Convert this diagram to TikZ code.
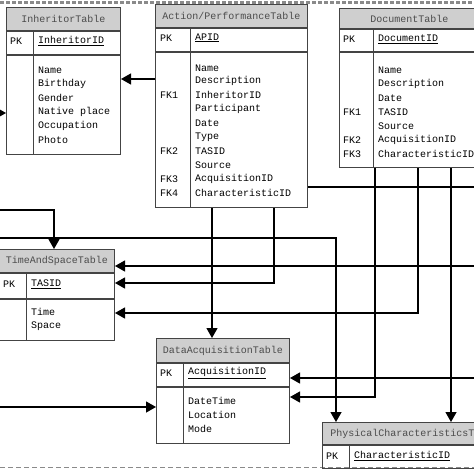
\documentclass[tikz,border=0pt]{standalone}
\usepackage{fontspec}
\usepackage{tikz}
\usepackage{xcolor}
\usetikzlibrary{arrows.meta}
\newfontfamily\tabfont{Liberation Mono}
\definecolor{headgray}{HTML}{cfcfcf}
\definecolor{rulegray}{HTML}{444444}
\definecolor{dashgray}{HTML}{8a8a8a}

\tikzset{
    hdr/.style = {fill = headgray, draw = rulegray, line width = 1pt, rectangle, anchor = north west, inner sep = 0pt, text = black!70},
    cell/.style = {draw = rulegray, line width = 1pt, rectangle, anchor = north west, inner sep = 0pt},
    fld/.style = {anchor = west, inner sep = 0pt},
    link/.style = {-{Triangle[length = 10pt, width = 11pt]}, line width = 1.3pt},
    wire/.style = {line width = 1.3pt}
}

\begin{document}
\begin{tikzpicture}[x = 1pt, y = -1pt, font = \tabfont\fontsize{10pt}{12pt}\selectfont]
        \useasboundingbox (0, 0) rectangle (474, 474);
        \clip (0, 0) rectangle (474, 474);

        % Frame
        \draw [dashgray, line width = 3pt, dash pattern = on 4pt off 2pt] (0, 2) -- (474, 2);
        \draw [dashgray, line width = 0.8pt, dash pattern = on 5pt off 3pt] (0, 467) -- (474, 467);

        % InheritorTable
        \node [hdr, minimum width = 114pt, minimum height = 23pt] (inh) at (6, 7) {InheritorTable};
        \node [cell, minimum width = 114pt, minimum height = 23pt] (inh-pk) at (inh.south west) {};
        \node [cell, minimum width = 114pt, minimum height = 99pt] (inh-body) at (inh-pk.south west) {};
        \draw [rulegray, line width = 1pt] ([xshift = 27pt] inh-pk.north west) -- ([xshift = 27pt] inh-body.south west);
        \node [fld] (inh-k) at (10, 41) {PK};
        \node [fld] (inh-id) at (38, 41) {\underline{InheritorID}};
        \node [fld] (inh-1) at (38, 70) {Name};
        \node [fld] (inh-2) at (38, 84) {Birthday};
        \node [fld] (inh-3) at (38, 98) {Gender};
        \node [fld] (inh-4) at (38, 112) {Native place};
        \node [fld] (inh-5) at (38, 126) {Occupation};
        \node [fld] (inh-6) at (38, 140) {Photo};

        % Action/PerformanceTable
        \node [hdr, minimum width = 152pt, minimum height = 23pt] (act) at (155, 4) {Action/PerformanceTable};
        \node [cell, minimum width = 152pt, minimum height = 23pt] (act-pk) at (act.south west) {};
        \node [cell, minimum width = 152pt, minimum height = 155pt] (act-body) at (act-pk.south west) {};
        \draw [rulegray, line width = 1pt] ([xshift = 35pt] act-pk.north west) -- ([xshift = 35pt] act-body.south west);
        \node [fld] (act-k) at (160, 38) {PK};
        \node [fld] (act-id) at (195, 38) {\underline{APID}};
        \node [fld] (act-1) at (195, 68) {Name};
        \node [fld] (act-2) at (195, 81) {Description};
        \node [fld] (act-3) at (195, 95) {InheritorID};
        \node [fld] (act-4) at (195, 109) {Participant};
        \node [fld] (act-5) at (195, 123) {Date};
        \node [fld] (act-6) at (195, 137) {Type};
        \node [fld] (act-7) at (195, 151) {TASID};
        \node [fld] (act-8) at (195, 165) {Source};
        \node [fld] (act-9) at (195, 179) {AcquisitionID};
        \node [fld] (act-10) at (195, 193) {CharacteristicID};
        \node [fld] (act-f1) at (160, 95) {FK1};
        \node [fld] (act-f2) at (160, 151) {FK2};
        \node [fld] (act-f3) at (160, 179) {FK3};
        \node [fld] (act-f4) at (160, 193) {FK4};

        % DocumentTable
        \node [hdr, minimum width = 140pt, minimum height = 20pt] (doc) at (339, 8) {DocumentTable};
        \node [cell, minimum width = 140pt, minimum height = 22pt] (doc-pk) at (doc.south west) {};
        \node [cell, minimum width = 140pt, minimum height = 115pt] (doc-body) at (doc-pk.south west) {};
        \draw [rulegray, line width = 1pt] ([xshift = 34pt] doc-pk.north west) -- ([xshift = 34pt] doc-body.south west);
        \node [fld] (doc-k) at (343, 39) {PK};
        \node [fld] (doc-id) at (378, 39) {\underline{DocumentID}};
        \node [fld] (doc-1) at (378, 70) {Name};
        \node [fld] (doc-2) at (378, 84) {Description};
        \node [fld] (doc-3) at (378, 98) {Date};
        \node [fld] (doc-4) at (378, 112) {TASID};
        \node [fld] (doc-5) at (378, 126) {Source};
        \node [fld] (doc-6) at (378, 140) {AcquisitionID};
        \node [fld] (doc-7) at (378, 154) {CharacteristicID};
        \node [fld] (doc-f1) at (343, 112) {FK1};
        \node [fld] (doc-f2) at (343, 140) {FK2};
        \node [fld] (doc-f3) at (343, 154) {FK3};

        % TimeAndSpaceTable
        \node [hdr, minimum width = 115pt, minimum height = 23pt] (tas) at (-1, 249) {TimeAndSpaceTable};
        \node [cell, minimum width = 115pt, minimum height = 25pt] (tas-pk) at (tas.south west) {};
        \node [cell, minimum width = 115pt, minimum height = 41pt] (tas-body) at (tas-pk.south west) {};
        \draw [rulegray, line width = 1pt] ([xshift = 27pt] tas-pk.north west) -- ([xshift = 27pt] tas-body.south west);
        \node [fld] (tas-k) at (3, 284) {PK};
        \node [fld] (tas-id) at (31, 284) {\underline{TASID}};
        \node [fld] (tas-1) at (31, 312) {Time};
        \node [fld] (tas-2) at (31, 326) {Space};

        % DataAcquisitionTable
        \node [hdr, minimum width = 133pt, minimum height = 24pt] (daq) at (156, 338) {DataAcquisitionTable};
        \node [cell, minimum width = 133pt, minimum height = 23pt] (daq-pk) at (daq.south west) {};
        \node [cell, minimum width = 133pt, minimum height = 56pt] (daq-body) at (daq-pk.south west) {};
        \draw [rulegray, line width = 1pt] ([xshift = 27pt] daq-pk.north west) -- ([xshift = 27pt] daq-body.south west);
        \node [fld] (daq-k) at (160, 373) {PK};
        \node [fld] (daq-id) at (188, 373) {\underline{AcquisitionID}};
        \node [fld] (daq-1) at (188, 401) {DateTime};
        \node [fld] (daq-2) at (188, 415) {Location};
        \node [fld] (daq-3) at (188, 429) {Mode};

        % PhysicalCharacteristicsTable
        \node [hdr, minimum width = 184pt, minimum height = 22pt] (phys) at (322, 422) {PhysicalCharacteristicsTable};
        \node [cell, minimum width = 184pt, minimum height = 23pt] (phys-pk) at (phys.south west) {};
        \draw [rulegray, line width = 1pt] ([xshift = 27pt] phys-pk.north west) -- ([xshift = 27pt] phys-pk.south west);
        \node [fld] (phys-k) at (326, 456) {PK};
        \node [fld] (phys-id) at (354, 456) {\underline{CharacteristicID}};

        % Free ends at the border
        \coordinate (edgeL1) at (0, 113);
        \coordinate (edgeL2) at (0, 210);
        \coordinate (edgeL3) at (0, 238);
        \coordinate (edgeL4) at (0, 407);
        \coordinate (edgeR1) at (474, 187);
        \coordinate (edgeR2) at (474, 266);
        \coordinate (edgeR3) at (474, 378);

        % Draw the links
        \draw [link] (edgeL1) -- (inh-body.west |- edgeL1);
        \draw [link] (act-body.west |- 0, 79) -- (inh-body.east |- 0, 79);
        \draw [link] (edgeL2) -| (tas.north -| 54, 0);
        \draw [link] (edgeL3) -| (phys.north -| 336, 0);
        \draw [link] (act-body.south -| 212, 0) -- (daq.north -| 212, 0);
        \draw [link] (act-body.south -| 274, 0) |- (tas-pk.east |- 0, 283);
        \draw [wire] (act-body.east |- edgeR1) -- (edgeR1);
        \draw [link] (edgeR2) -- (tas.east |- edgeR2);
        \draw [link] (doc-body.south -| 418, 0) |- (tas-body.east |- 0, 313);
        \draw [link] (doc-body.south -| 375, 0) |- (daq-body.east |- 0, 397);
        \draw [link] (doc-body.south -| 451, 0) -- (phys.north -| 451, 0);
        \draw [link] (edgeR3) -- (daq-pk.east |- edgeR3);
        \draw [link] (edgeL4) -- (daq-body.west |- edgeL4);

    \end{tikzpicture}
\end{document}
